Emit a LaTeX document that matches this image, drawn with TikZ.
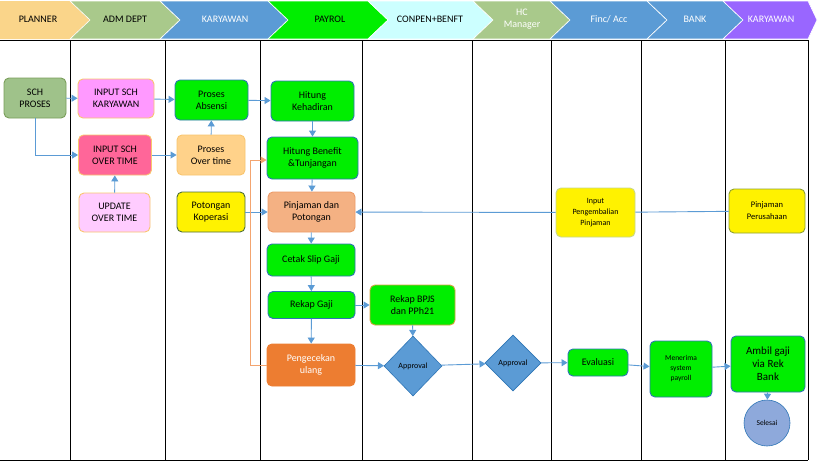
\documentclass[tikz,border=0pt]{standalone}
\usepackage{fontspec}
\setmainfont{Carlito}
\usetikzlibrary{shapes.geometric,arrows.meta}
\definecolor{arr}{HTML}{5B9BD5}
\definecolor{org}{HTML}{ED7D31}
\definecolor{gbd}{HTML}{2E75B6}
\definecolor{c1}{HTML}{A9C98B}\definecolor{c2}{HTML}{5B9BD5}\definecolor{c3}{HTML}{00EE00}
\definecolor{c4}{HTML}{CCFFFF}\definecolor{c5}{HTML}{9966FF}\definecolor{c0}{HTML}{FAD58A}
\definecolor{schbd}{HTML}{7A9E5A}\definecolor{schf}{HTML}{9FC28A}
\definecolor{obd}{HTML}{F9C56E}
\definecolor{pinkA}{HTML}{FF99FF}\definecolor{pinkB}{HTML}{FF6699}\definecolor{pinkC}{HTML}{FFCCFF}
\definecolor{peach}{HTML}{FFD28A}\definecolor{ybd}{HTML}{4D6F3A}
\definecolor{salbd}{HTML}{ED9B68}\definecolor{sal}{HTML}{F4B183}
\definecolor{rbbd}{HTML}{D9A441}\definecolor{cir}{HTML}{8EA9DB}
\definecolor{ipbd}{HTML}{C9D88A}\definecolor{pjbd}{HTML}{8DA034}
\tikzset{
 box/.style={draw=#1,line width=0.9pt,rounded corners=5pt,align=center,font=\fontsize{10}{12}\selectfont,inner sep=1pt},
 fl/.style={-{Triangle[length=6pt,width=7pt]},arr,line width=0.9pt},
 hdr/.style={line width=0.6pt,draw=white},
 dia/.style={diamond,fill=arr,draw=gbd,line width=0.6pt,font=\fontsize{8}{9}\selectfont,inner sep=0pt,minimum width=58pt,minimum height=60pt,aspect=1},
}
\begin{document}
\begin{tikzpicture}[x=1pt,y=-1pt]
\useasboundingbox (0,0) rectangle (827,461);
\fill[white] (0,0) rectangle (827,461);
\def\chev#1#2#3{\fill[#3,hdr] (#1,1) -- (#2,1) -- (#2+20,20) -- (#2,39) -- (#1,39) -- (#1+20,20) -- cycle;}
\fill[c0] (0,1) -- (70,1) -- (90,20) -- (70,39) -- (0,39) -- cycle;
\chev{70}{160}{c1}
\chev{160}{268}{c2}
\chev{268}{368}{c3}
\chev{368}{473}{c4}
\chev{473}{550}{c1}
\chev{550}{647}{c2}
\chev{647}{723}{c2}
\fill[c5,hdr] (723,1) -- (808,1) -- (817,20) -- (808,39) -- (723,39) -- (743,20) -- cycle;
\node (h1) at (38,19) {\fontsize{10}{12}\selectfont PLANNER};
\node (h2) at (125,19) {\fontsize{10}{12}\selectfont ADM DEPT};
\node[white] (h3) at (225,19) {\fontsize{10}{12}\selectfont KARYAWAN};
\node (h4) at (330,19) {\fontsize{10}{12}\selectfont PAYROL};
\node (h5) at (430,19) {\fontsize{10}{12}\selectfont CONPEN+BENFT};
\node[white,align=center] (h6) at (522,19) {\fontsize{10}{11}\selectfont HC\\\fontsize{10}{11}\selectfont Manager};
\node[white] (h7) at (609,19) {\fontsize{10}{12}\selectfont Finc/ Acc};
\node[white] (h8) at (695,19) {\fontsize{10}{12}\selectfont BANK};
\node[white] (h9) at (771,19) {\fontsize{10}{12}\selectfont KARYAWAN};
\draw[line width=0.9pt] (0,40) -- (808,40);
\draw[line width=0.9pt] (0,460) -- (808,460);
\foreach \x in {70,165,260,362,472,551,641,725,808} \draw[line width=0.9pt] (\x,40) -- (\x,460);
\node[box=schbd,fill=schf,minimum width=62pt,minimum height=40pt] (sch) at (35,98) {SCH\\PROSES};
\node[box=obd,fill=pinkA,minimum width=76pt,minimum height=39pt] (isk) at (116,98.5) {INPUT SCH\\KARYAWAN};
\node[box=obd,fill=pinkB,minimum width=73pt,minimum height=40pt] (iot) at (115,155) {INPUT SCH\\OVER TIME};
\node[box=obd,fill=pinkC,minimum width=71pt,minimum height=39pt] (uot) at (114.5,212.5) {UPDATE\\OVER TIME};
\node[box=gbd,fill=c3,minimum width=73pt,minimum height=40pt] (pa) at (211.5,100) {Proses\\Absensi};
\node[box=obd,fill=peach,minimum width=68pt,minimum height=40pt] (pot) at (211,155) {Proses\\Over time};
\node[box=ybd,fill=yellow,minimum width=68pt,minimum height=40pt] (pk) at (211,212) {Potongan\\Koperasi};
\node[box=gbd,fill=c3,minimum width=83pt,minimum height=40pt] (hk) at (312.5,101) {Hitung\\Kehadiran};
\node[box=gbd,fill=c3,minimum width=91pt,minimum height=42pt] (hb) at (312.5,158) {Hitung Benefit\\\&Tunjangan};
\node[box=salbd,fill=sal,minimum width=87pt,minimum height=40pt] (pp) at (311.5,212) {Pinjaman dan\\Potongan};
\node[box=gbd,fill=c3,minimum width=88pt,minimum height=32pt] (cs) at (311,260) {Cetak Slip Gaji};
\node[box=gbd,fill=c3,minimum width=87pt,minimum height=27pt] (rg) at (311.5,305) {Rekap Gaji};
\node[box=org,fill=org,text=white,minimum width=88pt,minimum height=42pt] (pu) at (311,365) {Pengecekan\\ulang};
\node[box=rbbd,fill=c3,minimum width=85pt,minimum height=40pt] (rb) at (412.5,305) {Rekap BPJS\\dan PPh21};
\node[dia] (ap1) at (413,366) {Approval};
\node[dia,minimum width=56pt,minimum height=56pt] (ap2) at (513,363) {Approval};
\node[box=gbd,fill=c3,minimum width=60pt,minimum height=27pt] (ev) at (598,362.5) {Evaluasi};
\node[box=gbd,fill=c3,minimum width=62pt,minimum height=56pt,font=\fontsize{7.5}{10}\selectfont] (ms) at (681,369) {Menerima\\system\\payroll};
\node[box=gbd,fill=c3,minimum width=74pt,minimum height=56pt,font=\fontsize{11}{13}\selectfont] (ag) at (768,364) {Ambil gaji\\via Rek\\Bank};
\node[circle,fill=cir,draw=gbd,line width=0.6pt,minimum size=46pt,inner sep=0pt,font=\fontsize{7.5}{9}\selectfont] (sl) at (767,423) {Selesai};
\node[box=ipbd,fill=yellow,minimum width=79pt,minimum height=49pt,font=\fontsize{8}{11}\selectfont] (ip) at (595.5,212.5) {Input\\Pengembalian\\Pinjaman};
\node[box=pjbd,fill=yellow,minimum width=76pt,minimum height=44pt,font=\fontsize{8.5}{12}\selectfont] (pj) at (767,211) {Pinjaman\\Perusahaan};
\draw[fl] (sch) -- (isk);
\draw[fl] (sch.south) |- (iot.west);
\draw[fl] (isk) -- (pa);
\draw[fl] (pa) -- (hk);
\draw[fl] (iot) -- (pot);
\draw[fl] (uot) -- (iot);
\draw[fl] (pot) -- (pa);
\draw[fl] (hk) -- (hb);
\draw[fl] (hb) -- (pp);
\draw[fl] (pk) -- (pp);
\draw[fl] (ip) -- (pp);
\draw[arr,line width=0.9pt] (pj) -- (ip);
\draw[fl] (pp) -- (cs);
\draw[fl] (cs) -- (rg);
\draw[fl] (rg) -- (pu);
\draw[fl] (rg) -- (rb);
\draw[fl] (rb) -- (ap1);
\draw[fl] (pu) -- (ap1);
\draw[fl] (ap1) -- (ap2);
\draw[fl] (ap2) -- (ev);
\draw[fl] (ev) -- (ms);
\draw[fl] (ms) -- (ag);
\draw[fl] (ag) -- (sl);
\coordinate (o1) at (250,365);
\coordinate (o2) at (250,160);
\draw[-{Triangle[length=6pt,width=7pt]},org!70,line width=0.9pt] (pu.west) -- (o1) -- (o2) -- (hb.west |- o2);
\end{tikzpicture}
\end{document}
